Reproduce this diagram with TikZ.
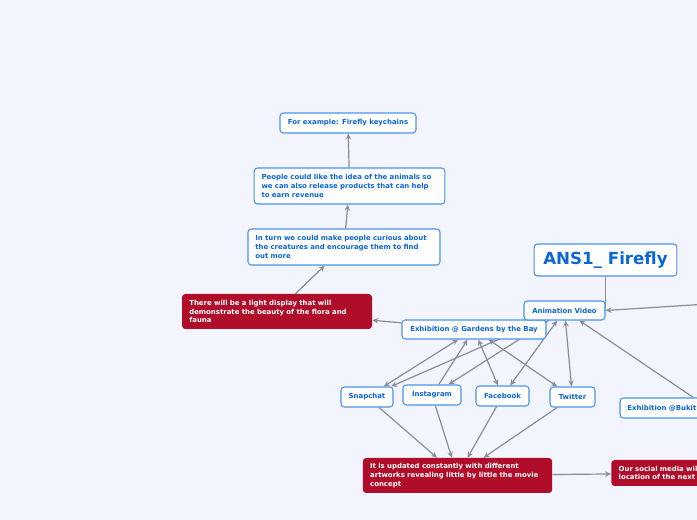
\documentclass[tikz,border=0pt]{standalone}
\usepackage{fontspec}
\setmainfont{DejaVu Sans}
\usetikzlibrary{arrows.meta,backgrounds}
\definecolor{mapBg}{HTML}{F2F5FE}
\definecolor{mapBlue}{HTML}{0B66D6}
\definecolor{mapEdge}{HTML}{4A94EE}
\definecolor{mapRed}{HTML}{B00D2A}
\definecolor{mapLink}{HTML}{8A8C96}

\begin{document}
\begin{tikzpicture}[x=0.75pt,y=-0.75pt,
  font=\fontsize{5.2}{6.6}\selectfont\bfseries,
  topic/.style={draw=mapEdge, fill=white, text=mapBlue, rounded corners=2.5pt, line width=0.8pt, inner xsep=5.5pt, inner ysep=2pt, minimum height=15pt},
  note/.style={fill=mapRed, text=white, rounded corners=2.5pt, inner xsep=5.5pt, inner ysep=2pt, align=left},
  link/.style={draw=mapLink, line width=0.9pt, -{Stealth[length=4.5pt,width=4pt]}},
  twoway/.style={link, {Stealth[length=4.5pt,width=4pt]}-{Stealth[length=4.5pt,width=4pt]}}]
\useasboundingbox (0,0) rectangle (697,520);

\node[topic, minimum width=102pt] (key) at (348,123) {For example: Firefly keychains};
\node[topic, align=left, text width=132pt, minimum height=27pt] (people) at (349.5,186) {People could like the idea of the animals so\\we can also release products that can help\\to earn revenue};
\node[topic, align=left, text width=133pt, minimum height=27pt] (curious) at (344,247) {In turn we could make people curious about\\the creatures and encourage them to find\\out more};
\node[note, text width=131.5pt, minimum height=26.25pt] (light) at (277,311.5) {There will be a light display that will\\demonstrate the beauty of the flora and\\fauna};
\node[topic, minimum width=108pt, minimum height=14.25pt] (gbtb) at (474,329.5) {Exhibition @ Gardens by the Bay};
\node[topic, minimum width=107pt, minimum height=24pt, font=\fontsize{12.5}{14}\selectfont\bfseries] (root) at (605.5,260) {ANS1\_ Firefly};
\node[topic, minimum width=60.75pt, minimum height=14.25pt] (anim) at (564.5,310.5) {Animation Video};
\node[topic, minimum width=39pt] (snap) at (367,397) {Snapchat};
\node[topic, minimum width=43.5pt] (insta) at (432,395) {Instagram};
\node[topic, minimum width=39.75pt] (fb) at (502.5,396) {Facebook};
\node[topic, minimum width=33.75pt] (tw) at (572.5,397) {Twitter};
\node[topic, align=left, text width=122.5pt] (bukit) at (709,408) {Exhibition @Bukit};
\node[note, text width=131pt, minimum height=26.25pt] (updated) at (457.5,475.5) {It is updated constantly with different\\artworks revealing little by little the movie\\concept};
\node[note, text width=131pt, minimum height=19.5pt] (social) at (706,473) {Our social media will\\location of the next};
\coordinate (offright) at (700,304.5);

\begin{scope}[on background layer]
\fill[mapBg] (0,0) rectangle (697,520);
\draw[draw=mapLink, line width=0.9pt] (root.south) -- (root.south |- anim.east);
\draw[link] (offright) -- (anim.east);
\draw[link] (bukit) -- (anim);
\draw[link] (gbtb) -- (light);
\draw[link] (light) -- (curious);
\draw[link] (curious) -- (people);
\draw[link] (people) -- (key);
\draw[link] (anim) -- (snap);
\draw[link] (anim) -- (insta);
\draw[twoway] (anim) -- (fb);
\draw[twoway] (anim) -- (tw);
\draw[twoway] (gbtb) -- (snap);
\draw[link] (insta) -- (gbtb);
\draw[twoway] (gbtb) -- (fb);
\draw[twoway] (gbtb) -- (tw);
\draw[link] (snap) -- (updated);
\draw[link] (insta) -- (updated);
\draw[link] (fb) -- (updated);
\draw[link] (tw) -- (updated);
\draw[link] (updated) -- (social);
\end{scope}
\end{tikzpicture}
\end{document}
